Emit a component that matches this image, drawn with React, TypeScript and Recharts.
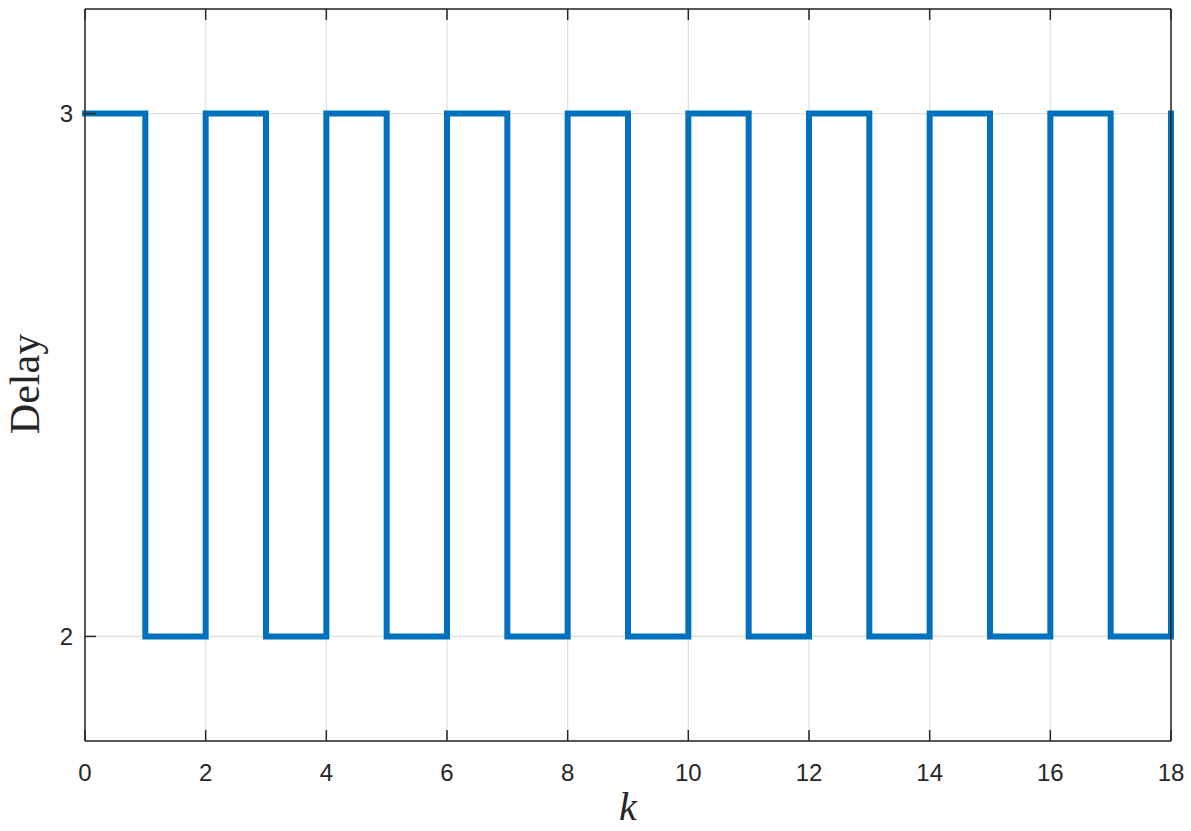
import { LineChart, Line, XAxis, YAxis, CartesianGrid } from "recharts";

// delay per sample k (stairs)
const kValues = [0, 1, 2, 3, 4, 5, 6, 7, 8, 9, 10, 11, 12, 13, 14, 15, 16, 17, 18];
const delayValues = [3, 2, 3, 2, 3, 2, 3, 2, 3, 2, 3, 2, 3, 2, 3, 2, 3, 2, 3];
const xTicks = [0, 2, 4, 6, 8, 10, 12, 14, 16, 18];
const yTicks = [2, 3];

const data = kValues.map((k, i) => ({ k, delay: delayValues[i] }));

const INK = "#262626";
const TICK_FONT = "'Liberation Sans', Arial, Helvetica, sans-serif";
const LABEL_FONT = "'Liberation Serif', 'Times New Roman', serif";
const TL = 11;

const BottomTick = ({ x, y, payload }: any) => (
    <g>
        <line x1={x} y1={y} x2={x} y2={y - TL} stroke={INK} strokeWidth={1.5} />
        <text x={x} y={y + 31} textAnchor="middle" dominantBaseline="central"
            fontSize={24} fill={INK} fontFamily={TICK_FONT}>{payload.value}</text>
    </g>
);

const TopTick = ({ x, y }: any) => (
    <line x1={x} y1={y} x2={x} y2={y + TL} stroke={INK} strokeWidth={1.5} />
);

const LeftTick = ({ x, y, payload }: any) => (
    <g>
        <line x1={x} y1={y} x2={x + TL} y2={y} stroke={INK} strokeWidth={1.5} />
        <text x={x - 12} y={y} textAnchor="end" dominantBaseline="central"
            fontSize={24} fill={INK} fontFamily={TICK_FONT}>{payload.value}</text>
    </g>
);

const RightTick = ({ x, y }: any) => (
    <line x1={x} y1={y} x2={x - TL} y2={y} stroke={INK} strokeWidth={1.5} />
);

const DelayLabel = ({ viewBox }: any) => {
    const cx = viewBox.x + 25;
    const cy = viewBox.y + viewBox.height / 2 + 9;
    return (
        <text x={cx} y={cy} transform={`rotate(-90 ${cx} ${cy})`} textAnchor="middle"
            dominantBaseline="central" fontSize={42} fontFamily={LABEL_FONT} fill={INK}>Delay</text>
    );
};

const App = () => {
    return (
        <div style={{ position: "absolute", left: 0, top: 0, width: 1191, height: 831, background: "#fff" }}>
            <LineChart width={1191} height={831} data={data}
                margin={{ top: 8, right: 19, bottom: 0, left: 0 }}>
                <CartesianGrid stroke="#dfdfdf" strokeWidth={1.2} xAxisId="b" yAxisId="l" />
                <XAxis xAxisId="b" dataKey="k" type="number" domain={[0, 18]} ticks={xTicks}
                    height={90} tickSize={0} tickMargin={0} tickLine={false} interval={0}
                    axisLine={{ stroke: INK, strokeWidth: 1.5 }} tick={(p: any) => <BottomTick {...p} />}
                    label={{ value: "k", position: "insideBottom", offset: 11, fontSize: 40,
                        fontStyle: "italic", fontFamily: LABEL_FONT, fill: INK }} />
                <XAxis xAxisId="t" orientation="top" dataKey="k" type="number" domain={[0, 18]} ticks={xTicks}
                    height={1} tickSize={0} tickMargin={0} tickLine={false} interval={0}
                    axisLine={{ stroke: INK, strokeWidth: 1.5 }} tick={(p: any) => <TopTick {...p} />} />
                <YAxis yAxisId="l" type="number" domain={[1.8, 3.2]} ticks={yTicks}
                    width={85} tickSize={0} tickMargin={0} tickLine={false} interval={0}
                    axisLine={{ stroke: INK, strokeWidth: 1.5 }} tick={(p: any) => <LeftTick {...p} />}
                    label={{ content: (p: any) => <DelayLabel {...p} /> }} />
                <YAxis yAxisId="r" orientation="right" type="number" domain={[1.8, 3.2]} ticks={yTicks}
                    width={1} tickSize={0} tickMargin={0} tickLine={false} interval={0}
                    axisLine={{ stroke: INK, strokeWidth: 1.5 }} tick={(p: any) => <RightTick {...p} />} />
                <Line xAxisId="b" yAxisId="l" type="stepAfter" dataKey="delay" stroke="#0072BD"
                    strokeWidth={6} strokeLinecap="square" dot={false} activeDot={false}
                    isAnimationActive={false} />
            </LineChart>
        </div>
    );
};

export default App;
